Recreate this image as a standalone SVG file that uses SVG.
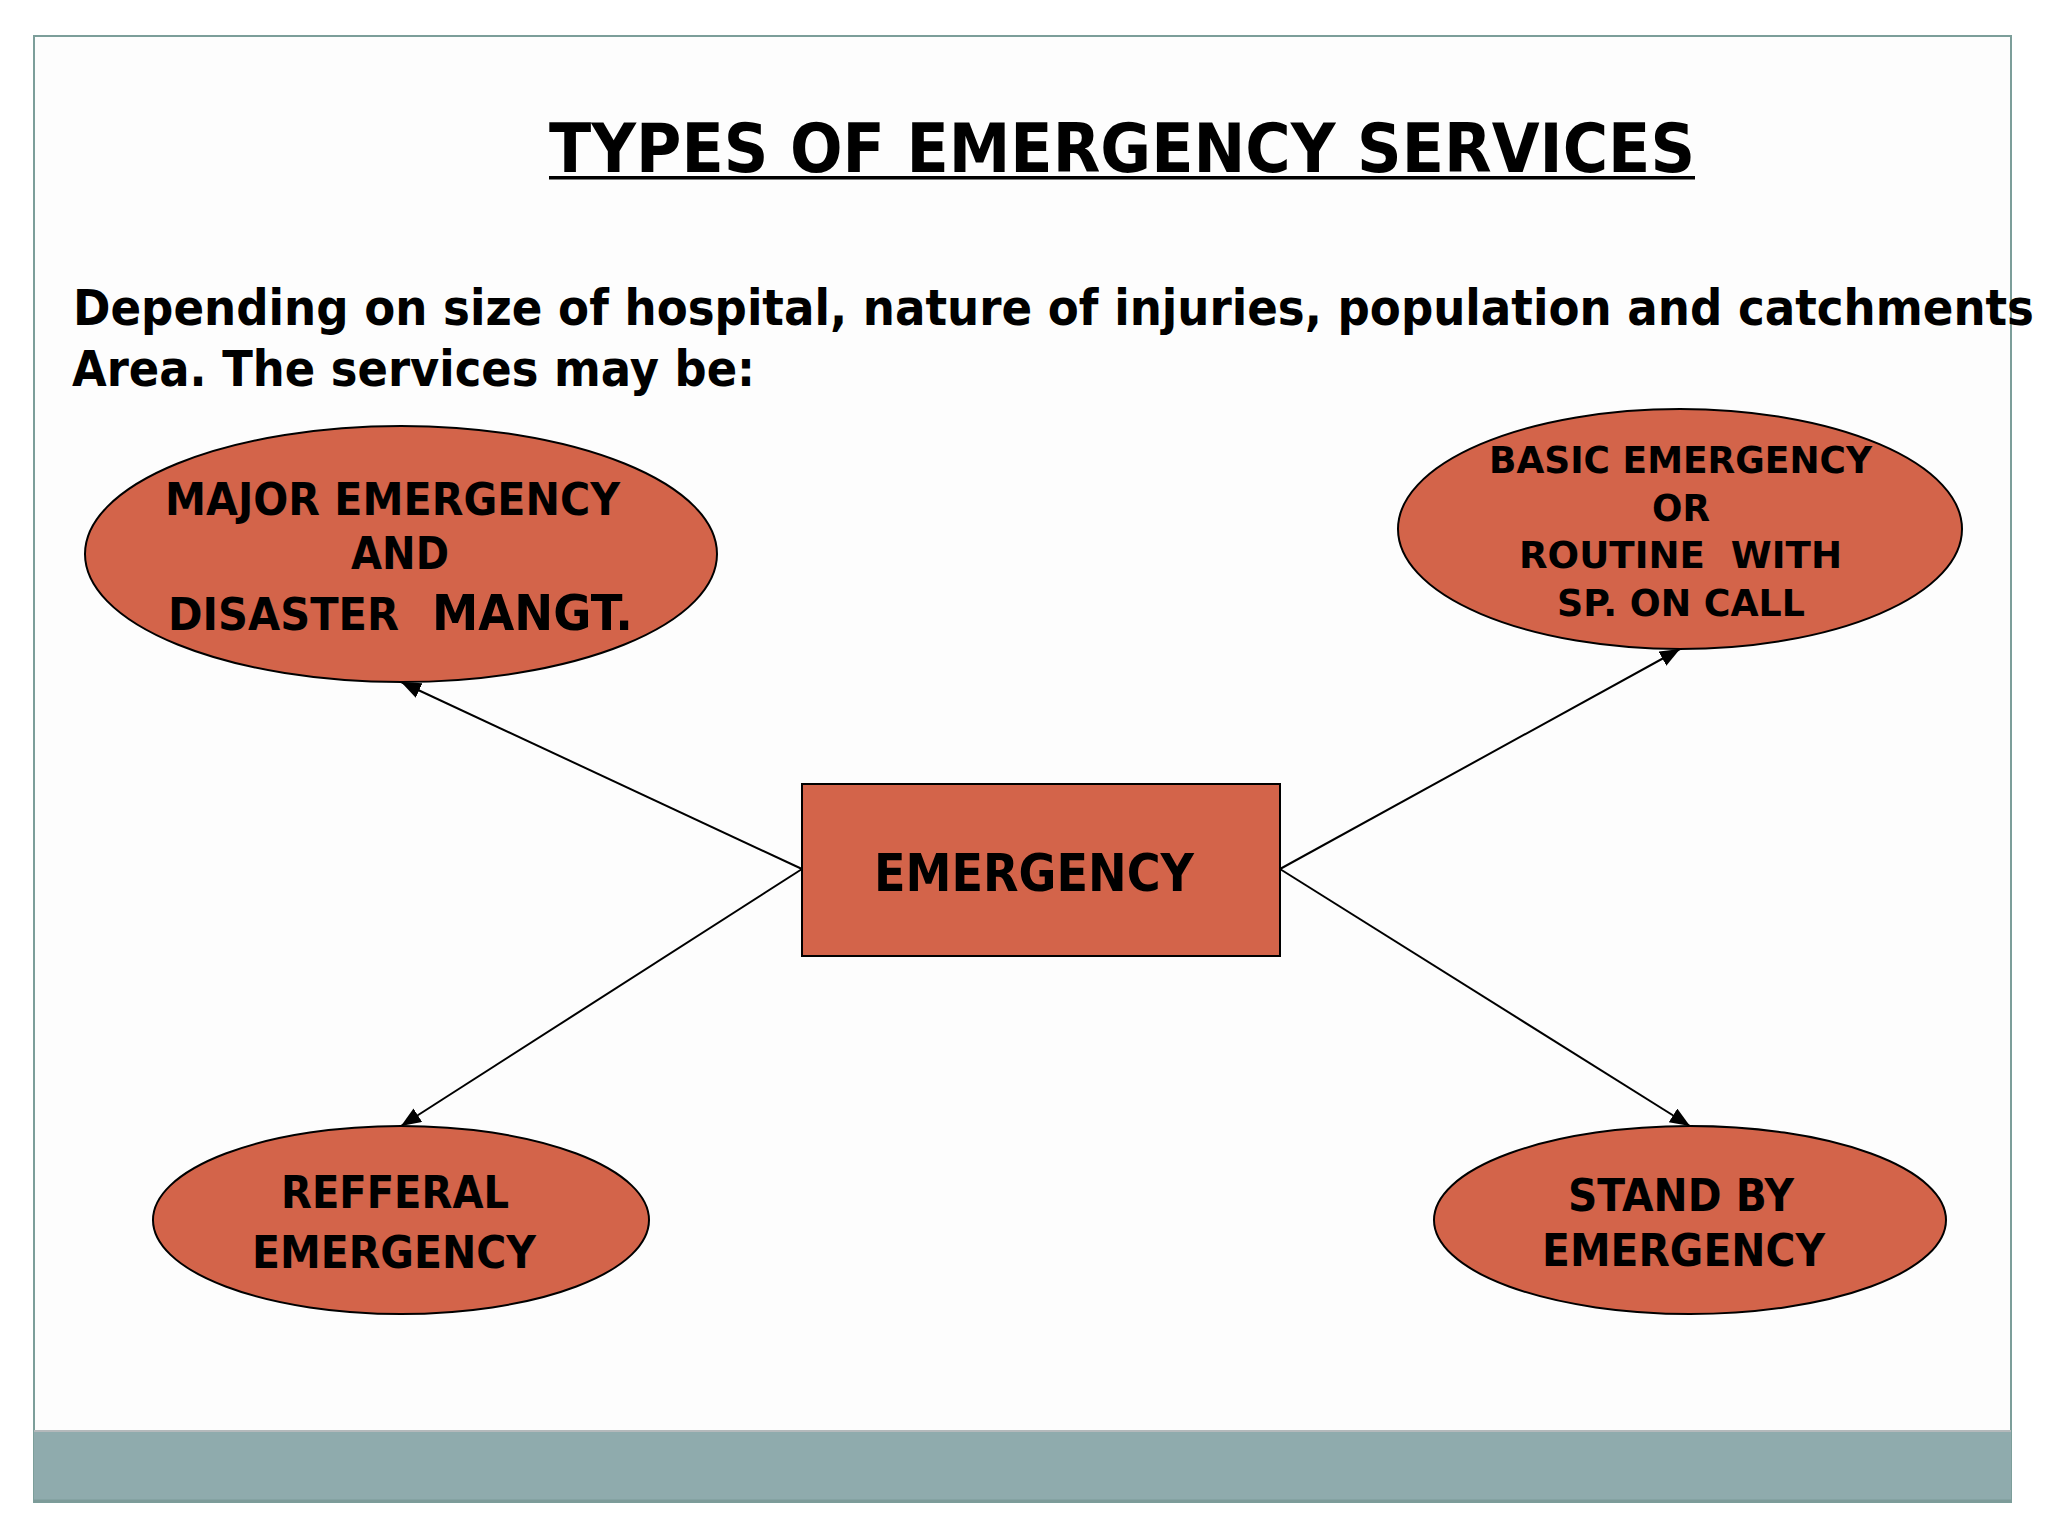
<svg xmlns="http://www.w3.org/2000/svg" width="2048" height="1536" viewBox="0 0 2048 1536">
<style>
.t{font-family:"DejaVu Sans","Liberation Sans",sans-serif;font-weight:bold;fill:#000}
.node{fill:#D3644A;stroke:#000;stroke-width:2}
.conn{stroke:#000;stroke-width:2;fill:none;marker-end:url(#ah)}
</style>
<defs>
<marker id="ah" markerUnits="userSpaceOnUse" markerWidth="22" markerHeight="18" refX="20" refY="8" orient="auto" viewBox="0 0 22 18">
<path d="M0,0 L20,8 L0,16 Z" fill="#000"/>
</marker>
</defs>
<rect x="0" y="0" width="2048" height="1536" fill="#fff"/>
<rect x="34" y="36" width="1977" height="1466" fill="#fdfdfd" stroke="#7c9e9a" stroke-width="2"/>
<rect x="34" y="1431" width="1977" height="71" fill="#8fabad"/>
<line x1="34" y1="1431" x2="2011" y2="1431" stroke="#b4b9bb" stroke-width="2"/>
<line x1="34" y1="1501" x2="2011" y2="1501" stroke="#7d9b99" stroke-width="3"/>
<g id="title">
<text class="t" x="549" y="172" font-size="68" textLength="1146" lengthAdjust="spacingAndGlyphs">TYPES OF EMERGENCY SERVICES</text>
<rect x="549" y="176" width="1146" height="3.5" fill="#000"/>
</g>
<g id="subtitle">
<text class="t" x="73" y="325" font-size="49" textLength="1961" lengthAdjust="spacingAndGlyphs">Depending on size of hospital, nature of injuries, population and catchments</text>
<text class="t" x="72" y="386" font-size="49" textLength="683" lengthAdjust="spacingAndGlyphs">Area. The services may be:</text>
</g>
<g id="connectors">
<line class="conn" x1="802" y1="869" x2="401" y2="682"/>
<line class="conn" x1="802" y1="869" x2="401" y2="1126"/>
<line class="conn" x1="1280" y1="869" x2="1680" y2="649"/>
<line class="conn" x1="1280" y1="869" x2="1690" y2="1126"/>
</g>
<g id="node-major">
<ellipse class="node" cx="401" cy="554" rx="316" ry="128"/>
<text class="t" x="165" y="515" font-size="44" textLength="455" lengthAdjust="spacingAndGlyphs">MAJOR EMERGENCY</text>
<text class="t" x="351" y="569" font-size="44" textLength="98" lengthAdjust="spacingAndGlyphs">AND</text>
<text class="t" x="168" y="630" font-size="44" textLength="231" lengthAdjust="spacingAndGlyphs">DISASTER</text>
<text class="t" x="432" y="630" font-size="50" textLength="201" lengthAdjust="spacingAndGlyphs">MANGT.</text>
</g>
<g id="node-basic">
<ellipse class="node" cx="1680" cy="529" rx="282" ry="120"/>
<text class="t" x="1489" y="473" font-size="37" textLength="383" lengthAdjust="spacingAndGlyphs">BASIC EMERGENCY</text>
<text class="t" x="1652" y="521" font-size="37" textLength="58" lengthAdjust="spacingAndGlyphs">OR</text>
<text class="t" x="1519" y="568" font-size="37" textLength="323" lengthAdjust="spacingAndGlyphs" xml:space="preserve">ROUTINE  WITH</text>
<text class="t" x="1557" y="616" font-size="37" textLength="248" lengthAdjust="spacingAndGlyphs">SP. ON CALL</text>
</g>
<g id="node-emergency">
<rect class="node" x="802" y="784" width="478" height="172"/>
<text class="t" x="874" y="891" font-size="51" textLength="320" lengthAdjust="spacingAndGlyphs">EMERGENCY</text>
</g>
<g id="node-referral">
<ellipse class="node" cx="401" cy="1220" rx="248" ry="94"/>
<text class="t" x="281" y="1208" font-size="45" textLength="228" lengthAdjust="spacingAndGlyphs">REFFERAL</text>
<text class="t" x="252" y="1268" font-size="45" textLength="284" lengthAdjust="spacingAndGlyphs">EMERGENCY</text>
</g>
<g id="node-standby">
<ellipse class="node" cx="1690" cy="1220" rx="256" ry="94"/>
<text class="t" x="1568" y="1211" font-size="45" textLength="226" lengthAdjust="spacingAndGlyphs">STAND BY</text>
<text class="t" x="1542" y="1266" font-size="45" textLength="283" lengthAdjust="spacingAndGlyphs">EMERGENCY</text>
</g>
</svg>
